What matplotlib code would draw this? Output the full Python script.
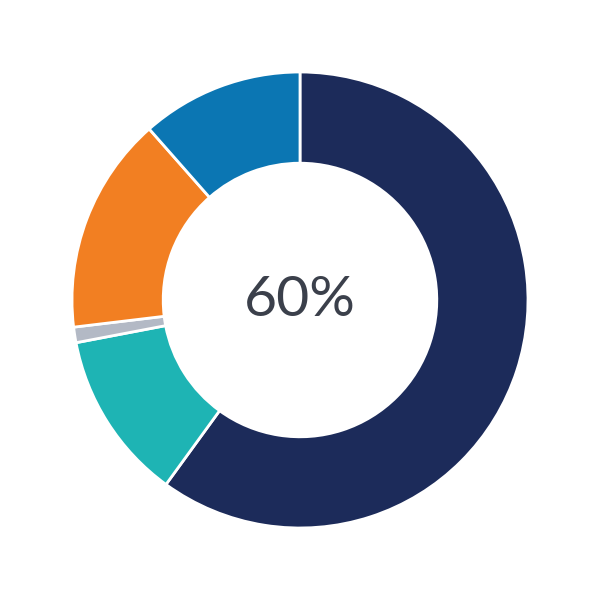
import matplotlib.pyplot as plt

plt.rcParams['font.family'] = ['Lato', 'DejaVu Sans']

labels = ['A', 'B', 'C', 'D', 'E']
values = [60, 12, 1.1, 15.4, 11.5]
colors = ['#1c2b5a', '#1eb4b4', '#b3b9c5', '#f27f22', '#0b76b3']
center_text = '60%'

fig = plt.figure(figsize=(6, 6), dpi=100)
ax = fig.add_axes([0, 0, 1, 1])
ax.pie(values, colors=colors, startangle=90, counterclock=False,
       radius=1, wedgeprops=dict(width=0.4, edgecolor='white', linewidth=2))
ax.text(0, 0, center_text, ha='center', va='center', fontsize=41,
        fontweight='normal', color='#3b404b')
lim = 300 / 228
ax.set_xlim(-lim, lim)
ax.set_ylim(-lim, lim)
ax.set_aspect('equal')
ax.axis('off')

plt.savefig('out.png', dpi=100, facecolor='white')
